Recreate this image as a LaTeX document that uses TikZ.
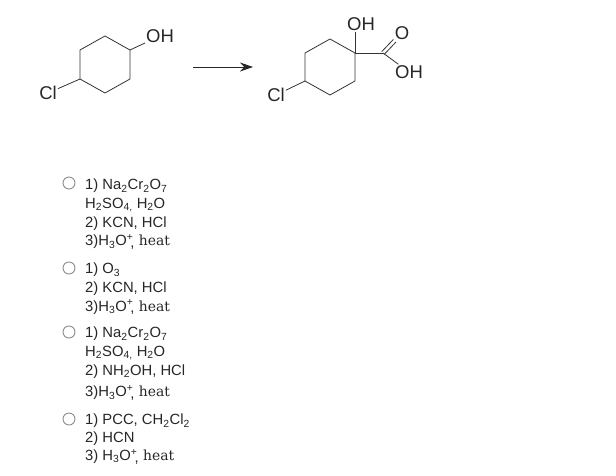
\documentclass[tikz,border=0pt]{standalone}
\usepackage{fontspec}
\setmainfont{Liberation Sans}
\newfontfamily\heatfont[Scale=0.94]{DejaVu Serif}
\usetikzlibrary{arrows.meta,positioning}
\newcommand{\sbs}[1]{\textsubscript{#1}}
\newcommand{\hthree}{H\sbs{3}O\textsuperscript{+}\kern-0.2em\raisebox{-0.1em}{,}\kern0.3em{\heatfont heat}}
\begin{document}
\begin{tikzpicture}[
  x=1pt, y=-1pt,
  atomlabel/.style={font=\fontsize{18.5}{20}\selectfont, inner sep=1pt, text=black!85},
  bond/.style={line width=0.8pt, black!80},
  radiobtn/.style={circle, draw=black!45, fill=white, line width=0.9pt, minimum size=12pt, inner sep=0pt},
  choice/.style={anchor=north west, align=left, inner sep=0pt, text=black!85,
    font=\fontsize{14.8}{18.6}\selectfont},
  arr/.style={-{Stealth[length=13pt,width=9pt]}, line width=0.8pt, black!85},
]
\useasboundingbox (0,0) rectangle (616,475);
% ── Starting material ──
\coordinate (la) at (105,36);
\coordinate (lb) at (130,50);
\coordinate (lc) at (130,79);
\coordinate (ld) at (105,93);
\coordinate (le) at (80,79);
\coordinate (lf) at (80,50);
\node[atomlabel] (loh) at (160,36) {OH};
\node[atomlabel] (lcl) at (48,93) {Cl};
\draw[bond] (la) -- (lb) -- (lc) -- (ld) -- (le) -- (lf) -- cycle;
\draw[bond] (lb) -- (loh);
\draw[bond] (le) -- (lcl);

% ── Product ──
\coordinate (ra) at (330,39);
\coordinate (rb) at (355,53);
\coordinate (rc) at (355,81);
\coordinate (rd) at (330,95);
\coordinate (re) at (305,81);
\coordinate (rf) at (305,53);
\coordinate (acid) at (383,53);
\node[atomlabel] (roh) at (361,24) {OH};
\node[atomlabel] (rcl) at (276,95) {Cl};
\node[atomlabel] (oxo) at (402,33) {O};
\node[atomlabel] (aoh) at (409,72) {OH};
\draw[bond] (ra) -- (rb) -- (rc) -- (rd) -- (re) -- (rf) -- cycle;
\draw[bond] (rb) -- (rb |- roh.south);
\draw[bond] (rb) -- (acid);
\draw[bond] (re) -- (rcl);
\draw[bond] (acid) -- (aoh);
\draw[bond, transform canvas={xshift=-1.3pt, yshift=1.3pt}] (acid) -- (oxo);
\draw[bond, transform canvas={xshift=1.3pt, yshift=-1.3pt}] (acid) -- (oxo);

% ── Reaction arrow ──
\coordinate (arrstart) at (193,67);
\coordinate (arrend) at (253,67);
\draw[arr] (arrstart) -- (arrend);

% ── Choices ──
\node[radiobtn] (opta) at (69,183) {};
\node[radiobtn] (optb) at (69,268) {};
\node[radiobtn] (optc) at (69,332) {};
\node[radiobtn] (optd) at (69,419) {};

\node[choice] (texta) at (85,179)
  {1) Na\sbs{2}Cr\sbs{2}O\sbs{7}\\H\sbs{2}SO\sbs{4,} H\sbs{2}O\\2) KCN, HCl\\3)\hthree};
\node[choice] (textb) at (85,263)
  {1) O\sbs{3}\\2) KCN, HCl\\3)\hthree};
\node[choice] (textc) at (85,327)
  {1) Na\sbs{2}Cr\sbs{2}O\sbs{7}\\H\sbs{2}SO\sbs{4,} H\sbs{2}O\\2) NH\sbs{2}OH, HCl\\[3pt]3)\hthree};
\node[choice] (textd) at (85,414)
  {1) PCC, CH\sbs{2}Cl\sbs{2}\\[-1.5pt]2) HCN\\3) \hthree};
\end{tikzpicture}
\end{document}
